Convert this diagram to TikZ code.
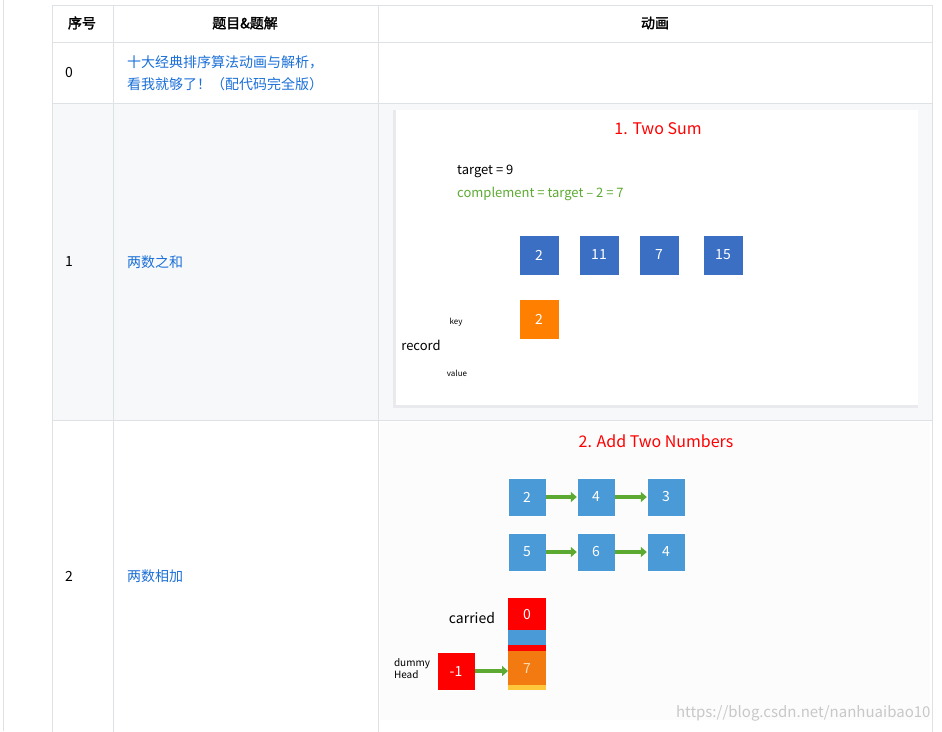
\documentclass[tikz,border=0pt]{standalone}
\usepackage{fontspec}
\setmainfont{Noto Sans CJK SC}[AutoFakeBold=2]
\usetikzlibrary{arrows.meta}
\definecolor{link}{HTML}{1A6FD8}
\definecolor{gridc}{HTML}{DFE2E5}
\definecolor{bl1}{HTML}{3A6FC4}
\definecolor{bl2}{HTML}{4A9AD8}
\definecolor{orng}{HTML}{FF7F00}
\definecolor{grn}{HTML}{5DAA32}
\definecolor{rowbg}{HTML}{F6F8FA}
\definecolor{panelb}{HTML}{E8EAED}
\definecolor{panel2}{HTML}{FCFCFC}
\definecolor{orng2}{HTML}{F27A10}
\definecolor{yel}{HTML}{FFC83C}
\definecolor{seven}{HTML}{FFD9B0}
\definecolor{wmc}{HTML}{C8C8C8}
\tikzset{
 cell/.style={font=\fontsize{14}{22}\selectfont,anchor=west,inner sep=0pt},
 hdr/.style={font=\bfseries\fontsize{14}{17}\selectfont},
 sq/.style={draw=white,minimum size=40pt,inner sep=0pt,text=white,font=\fontsize{14}{17}\selectfont},
 sq2/.style={sq,minimum size=38pt,fill=bl2},
 arr/.style={grn,line width=4pt,-{Triangle[length=6pt,width=10pt]}},
 lbl/.style={font=\fontsize{13}{15}\selectfont,inner sep=0pt},
 tiny/.style={font=\fontsize{8}{9}\selectfont},
}
\begin{document}
\begin{tikzpicture}[x=1pt,y=-1pt]
\useasboundingbox (0,0) rectangle (942,731);
\fill[white] (0,0) rectangle (942,731);
\draw[gridc] (3,0) -- (3,731);
\fill[rowbg] (52,103) rectangle (932,420);
\draw[gridc] (52,5) rectangle (932,740);
\draw[gridc] (52,42) -- (932,42);
\draw[gridc] (52,103) -- (932,103);
\draw[gridc] (52,420) -- (932,420);
\draw[gridc] (113,5) -- (113,740);
\draw[gridc] (378,5) -- (378,740);
\node[hdr] (h1) at (82,23) {序号};
\node[hdr] (h2) at (245,23) {题目\&题解};
\node[hdr] (h3) at (655,23) {动画};
\node[cell] (n0) at (65,73) {0};
\node[cell,text=link,align=left] (t0) at (127,73) {十大经典排序算法动画与解析，\\看我就够了！（配代码完全版）};
\node[cell] (n1) at (65,262) {1};
\node[cell,text=link] (t1) at (127,262) {两数之和};
\node[cell] (n2) at (65,576) {2};
\node[cell,text=link] (t2) at (127,576) {两数相加};
\fill[panelb] (393,110) rectangle (918,408);
\fill[white] (396,110) rectangle (918,405);
\node[text=red,font=\fontsize{16}{19}\selectfont] (ti1) at (658,129) {1. Two Sum};
\node[lbl,anchor=west] (tg) at (457,171) {target = 9};
\node[lbl,anchor=west,text=grn] (cp) at (457,194) {complement = target -- 2 = 7};
\node[sq,fill=bl1] (a1) at (539,255) {2};
\node[sq,fill=bl1] (a2) at (599,255) {11};
\node[sq,fill=bl1] (a3) at (659,255) {7};
\node[sq,fill=bl1] (a4) at (723,255) {15};
\node[sq,fill=orng] (o1) at (539,319) {2};
\node[tiny] (ky) at (456,322) {key};
\node[lbl] (rc) at (421,345) {record};
\node[tiny] (vl) at (457,373) {value};
\fill[panel2] (380,422) rectangle (930,720);
\node[text=red,font=\fontsize{16}{19}\selectfont] (ti2) at (656,441) {2. Add Two Numbers};
\node[sq2] (b1) at (527,497) {2};
\node[sq2] (b2) at (596,497) {4};
\node[sq2] (b3) at (666,497) {3};
\node[sq2] (c1) at (527,552) {5};
\node[sq2] (c2) at (596,552) {6};
\node[sq2] (c3) at (666,552) {4};
\draw[arr] (b1) -- (b2);
\draw[arr] (b2) -- (b3);
\draw[arr] (c1) -- (c2);
\draw[arr] (c2) -- (c3);
\node[font=\fontsize{14}{17}\selectfont] (ca) at (472,618) {carried};
\fill[red] (508,598) rectangle (546,651);
\fill[bl2] (508,630) rectangle (546,645);
\node[text=white,font=\fontsize{14}{17}\selectfont] (z0) at (527,614) {0};
\fill[orng2] (508,651) rectangle (546,685);
\fill[yel] (508,685) rectangle (546,690);
\node[text=seven,font=\fontsize{14}{17}\selectfont] (s7) at (527,668) {7};
\node[sq,fill=red,minimum size=38pt] (d1) at (456,671) {-1};
\coordinate (d2) at (508,671);
\draw[arr] (d1) -- (d2);
\node[font=\fontsize{10}{12}\selectfont,align=left] (dh) at (412,669) {dummy\\Head};
\node[text=wmc,font=\fontsize{15}{18}\selectfont,anchor=east] (wm) at (934,713) {https://blog.csdn.net/nanhuaibao10};
\end{tikzpicture}
\end{document}
